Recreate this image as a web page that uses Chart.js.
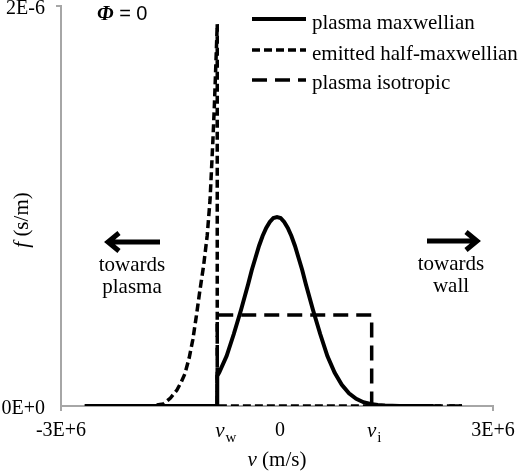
<!DOCTYPE html>
<html>
<head>
<meta charset="utf-8">
<script src="https://cdn.jsdelivr.net/npm/chart.js@4.4.1/dist/chart.umd.min.js"></script>
<style>
html, body { margin: 0; padding: 0; background: #fff; }
#wrap { width: 520px; height: 476px; }
</style>
</head>
<body>
<div id="wrap"><canvas id="chart" width="520" height="476"></canvas></div>
<script>
// velocity in units of 1E+6 m/s, f in units of 1E-6 s/m
const VW = -0.83;   // wall velocity v_w
const VI = 1.315;   // v_i

// plasma maxwellian (cut below v_w)
const maxwellV = [-2.67, VW, VW, -0.8, -0.7, -0.6, -0.5, -0.4, -0.35, -0.3, -0.25, -0.2, -0.15, -0.1, -0.05, 0,
                  0.05, 0.1, 0.15, 0.2, 0.25, 0.3, 0.35, 0.4, 0.5, 0.6, 0.7, 0.8, 0.9, 1.0, 1.1, 1.2, 1.3, 1.4, 1.5, 1.7, 2.17];
const maxwellF = [0, 0, 0.15, 0.17, 0.25, 0.36, 0.48, 0.61, 0.68, 0.74, 0.80, 0.85, 0.89, 0.92, 0.94, 0.945,
                  0.94, 0.92, 0.89, 0.85, 0.80, 0.74, 0.68, 0.61, 0.48, 0.36, 0.25, 0.167, 0.106, 0.063, 0.036, 0.019, 0.010, 0.005, 0.002, 0, 0];

// emitted half-maxwellian
const emittedV = [-2.67, -1.76, -1.58, -1.48, -1.39, -1.33, -1.28, -1.22, -1.17, -1.12, -1.07, -1.02, -0.97, -0.93, -0.89, -0.87, -0.85, VW, VW, 2.57];
const emittedF = [0, 0, 0.01, 0.04, 0.08, 0.12, 0.16, 0.24, 0.33, 0.45, 0.58, 0.70, 0.85, 1.03, 1.33, 1.5, 1.7, 1.91, 0, 0];

// plasma isotropic
const isoV = [VW, VW, VI, VI, 2.57];
const isoF = [0, 0.455, 0.455, 0, 0];

const seriesNames = ['plasma maxwellian', 'emitted half-maxwellian', 'plasma isotropic'];

// axis ticks
const xTickValues = [-3, VW, 0, VI, 3];
const xTickLabels = ['-3E+6', 'v|w', '0', 'v|i', '3E+6'];
const yTickValues = [0, 2];
const yTickLabels = ['0E+0', '2E-6'];

const SERIF = '"Liberation Serif", "Times New Roman", serif';
const SANS = '"Liberation Sans", Arial, sans-serif';

function toPoints(xs, ys) {
    return xs.map((x, i) => ({ x: x, y: ys[i] }));
}

// draw "v|w" style label: italic main letter + upright subscript
function drawSubLabel(ctx, label, cx, baseY, size) {
    const parts = label.split('|');
    ctx.font = 'italic ' + size + 'px ' + SERIF;
    const w1 = ctx.measureText(parts[0]).width;
    ctx.font = Math.round(size * 0.72) + 'px ' + SERIF;
    const w2 = ctx.measureText(parts[1]).width;
    const left = cx - (w1 + w2) / 2;
    ctx.textAlign = 'left';
    ctx.font = 'italic ' + size + 'px ' + SERIF;
    ctx.fillText(parts[0], left, baseY);
    ctx.font = Math.round(size * 0.72) + 'px ' + SERIF;
    ctx.fillText(parts[1], left + w1 + 1, baseY + 5);
}

const textPlugin = {
    id: 'textPlugin',
    afterDraw(chart) {
        const ctx = chart.ctx;
        const xs = chart.scales.x;
        const ys = chart.scales.y;
        ctx.save();
        ctx.fillStyle = '#000';
        ctx.textBaseline = 'alphabetic';

        // tick marks at the axis ends
        ctx.strokeStyle = '#a6a6a6';
        ctx.lineWidth = 2;
        ctx.beginPath();
        ctx.moveTo(xs.left - 5, ys.getPixelForValue(2));
        ctx.lineTo(xs.left, ys.getPixelForValue(2));
        ctx.moveTo(xs.getPixelForValue(-3), ys.bottom);
        ctx.lineTo(xs.getPixelForValue(-3), ys.bottom + 5);
        ctx.moveTo(xs.getPixelForValue(3), ys.bottom);
        ctx.lineTo(xs.getPixelForValue(3), ys.bottom + 5);
        ctx.stroke();

        // y tick labels
        ctx.font = '20px ' + SERIF;
        ctx.textAlign = 'right';
        yTickValues.forEach((v, i) => {
            ctx.fillText(yTickLabels[i], xs.left - 16, ys.getPixelForValue(v) + 8);
        });

        // x tick labels
        xTickValues.forEach((v, i) => {
            const px = xs.getPixelForValue(v);
            const lab = xTickLabels[i];
            if (lab.indexOf('|') >= 0) {
                drawSubLabel(ctx, lab, px + (v === VW ? 8 : 2), ys.bottom + 31, 21);
            } else {
                ctx.font = '20px ' + SERIF;
                ctx.textAlign = 'center';
                ctx.fillText(lab, px + (v === 0 ? 3 : 0), ys.bottom + 30);
            }
        });

        // x axis title
        ctx.font = 'italic 21px ' + SERIF;
        let w1 = ctx.measureText('v').width;
        ctx.font = '21px ' + SERIF;
        let w2 = ctx.measureText(' (m/s)').width;
        let left = xs.getPixelForValue(0) - (w1 + w2) / 2;
        ctx.textAlign = 'left';
        ctx.font = 'italic 21px ' + SERIF;
        ctx.fillText('v', left, ys.bottom + 60);
        ctx.font = '21px ' + SERIF;
        ctx.fillText(' (m/s)', left + w1, ys.bottom + 60);

        // y axis title
        ctx.save();
        ctx.translate(28, 220);
        ctx.rotate(-Math.PI / 2);
        ctx.font = 'italic 21px ' + SERIF;
        w1 = ctx.measureText('f').width;
        ctx.font = '21px ' + SERIF;
        w2 = ctx.measureText(' (s/m)').width;
        left = -(w1 + w2) / 2;
        ctx.font = 'italic 21px ' + SERIF;
        ctx.fillText('f', left, 0);
        ctx.font = '21px ' + SERIF;
        ctx.fillText(' (s/m)', left + w1, 0);
        ctx.restore();

        // Φ = 0
        ctx.textAlign = 'left';
        ctx.font = 'bold italic 21px ' + SERIF;
        ctx.fillText('Φ', 97, 20);
        w1 = ctx.measureText('Φ').width;
        ctx.font = '20px ' + SANS;
        ctx.fillText(' = 0', 97 + w1, 20);

        // legend
        const rowLine = [19, 50, 80];
        const rowText = [29, 60, 89];
        chart.data.datasets.forEach((ds, i) => {
            ctx.save();
            ctx.strokeStyle = '#000';
            ctx.lineWidth = ds.borderWidth;
            ctx.setLineDash(ds.borderDash || []);
            ctx.beginPath();
            ctx.moveTo(252, rowLine[i]);
            ctx.lineTo(306, rowLine[i]);
            ctx.stroke();
            ctx.restore();
            ctx.font = '21px ' + SERIF;
            ctx.textAlign = 'left';
            ctx.fillText(ds.label, 312, rowText[i]);
        });

        // direction arrows
        ctx.strokeStyle = '#000';
        ctx.lineWidth = 5;
        ctx.setLineDash([]);
        ctx.lineCap = 'butt';
        ctx.lineJoin = 'miter';
        ctx.beginPath();
        ctx.moveTo(160, 242);
        ctx.lineTo(109, 242);
        ctx.moveTo(119, 233);
        ctx.lineTo(108, 242);
        ctx.lineTo(119, 251);
        ctx.moveTo(427, 241);
        ctx.lineTo(475, 241);
        ctx.moveTo(466, 232);
        ctx.lineTo(477, 241);
        ctx.lineTo(466, 250);
        ctx.stroke();

        ctx.font = '21px ' + SERIF;
        ctx.textAlign = 'center';
        ctx.fillText('towards', 132, 271);
        ctx.fillText('plasma', 132, 293);
        ctx.fillText('towards', 451, 270);
        ctx.fillText('wall', 451, 292);
        ctx.restore();
    }
};

const ctx = document.getElementById('chart').getContext('2d');
new Chart(ctx, {
    type: 'scatter',
    data: {
        datasets: [
            {
                label: seriesNames[0],
                data: toPoints(maxwellV, maxwellF),
                showLine: true,
                borderColor: '#000',
                borderWidth: 4,
                pointRadius: 0,
                tension: 0
            },
            {
                label: seriesNames[1],
                data: toPoints(emittedV, emittedF),
                showLine: true,
                borderColor: '#000',
                borderWidth: 3.5,
                borderDash: [8, 4],
                pointRadius: 0,
                tension: 0
            },
            {
                label: seriesNames[2],
                data: toPoints(isoV, isoF),
                showLine: true,
                borderColor: '#000',
                borderWidth: 3.5,
                borderDash: [15, 8],
                pointRadius: 0,
                tension: 0
            }
        ]
    },
    options: {
        responsive: false,
        animation: false,
        layout: { padding: { left: 61, right: 27, top: 6, bottom: 70 } },
        scales: {
            x: {
                type: 'linear',
                min: -3,
                max: 3,
                grid: { display: false, drawTicks: false },
                border: { display: true, color: '#a6a6a6', width: 2 },
                ticks: { display: false }
            },
            y: {
                type: 'linear',
                min: 0,
                max: 2,
                grid: { display: false, drawTicks: false },
                border: { display: true, color: '#a6a6a6', width: 2 },
                ticks: { display: false }
            }
        },
        plugins: {
            legend: { display: false },
            tooltip: { enabled: false }
        }
    },
    plugins: [textPlugin]
});
</script>
</body>
</html>
